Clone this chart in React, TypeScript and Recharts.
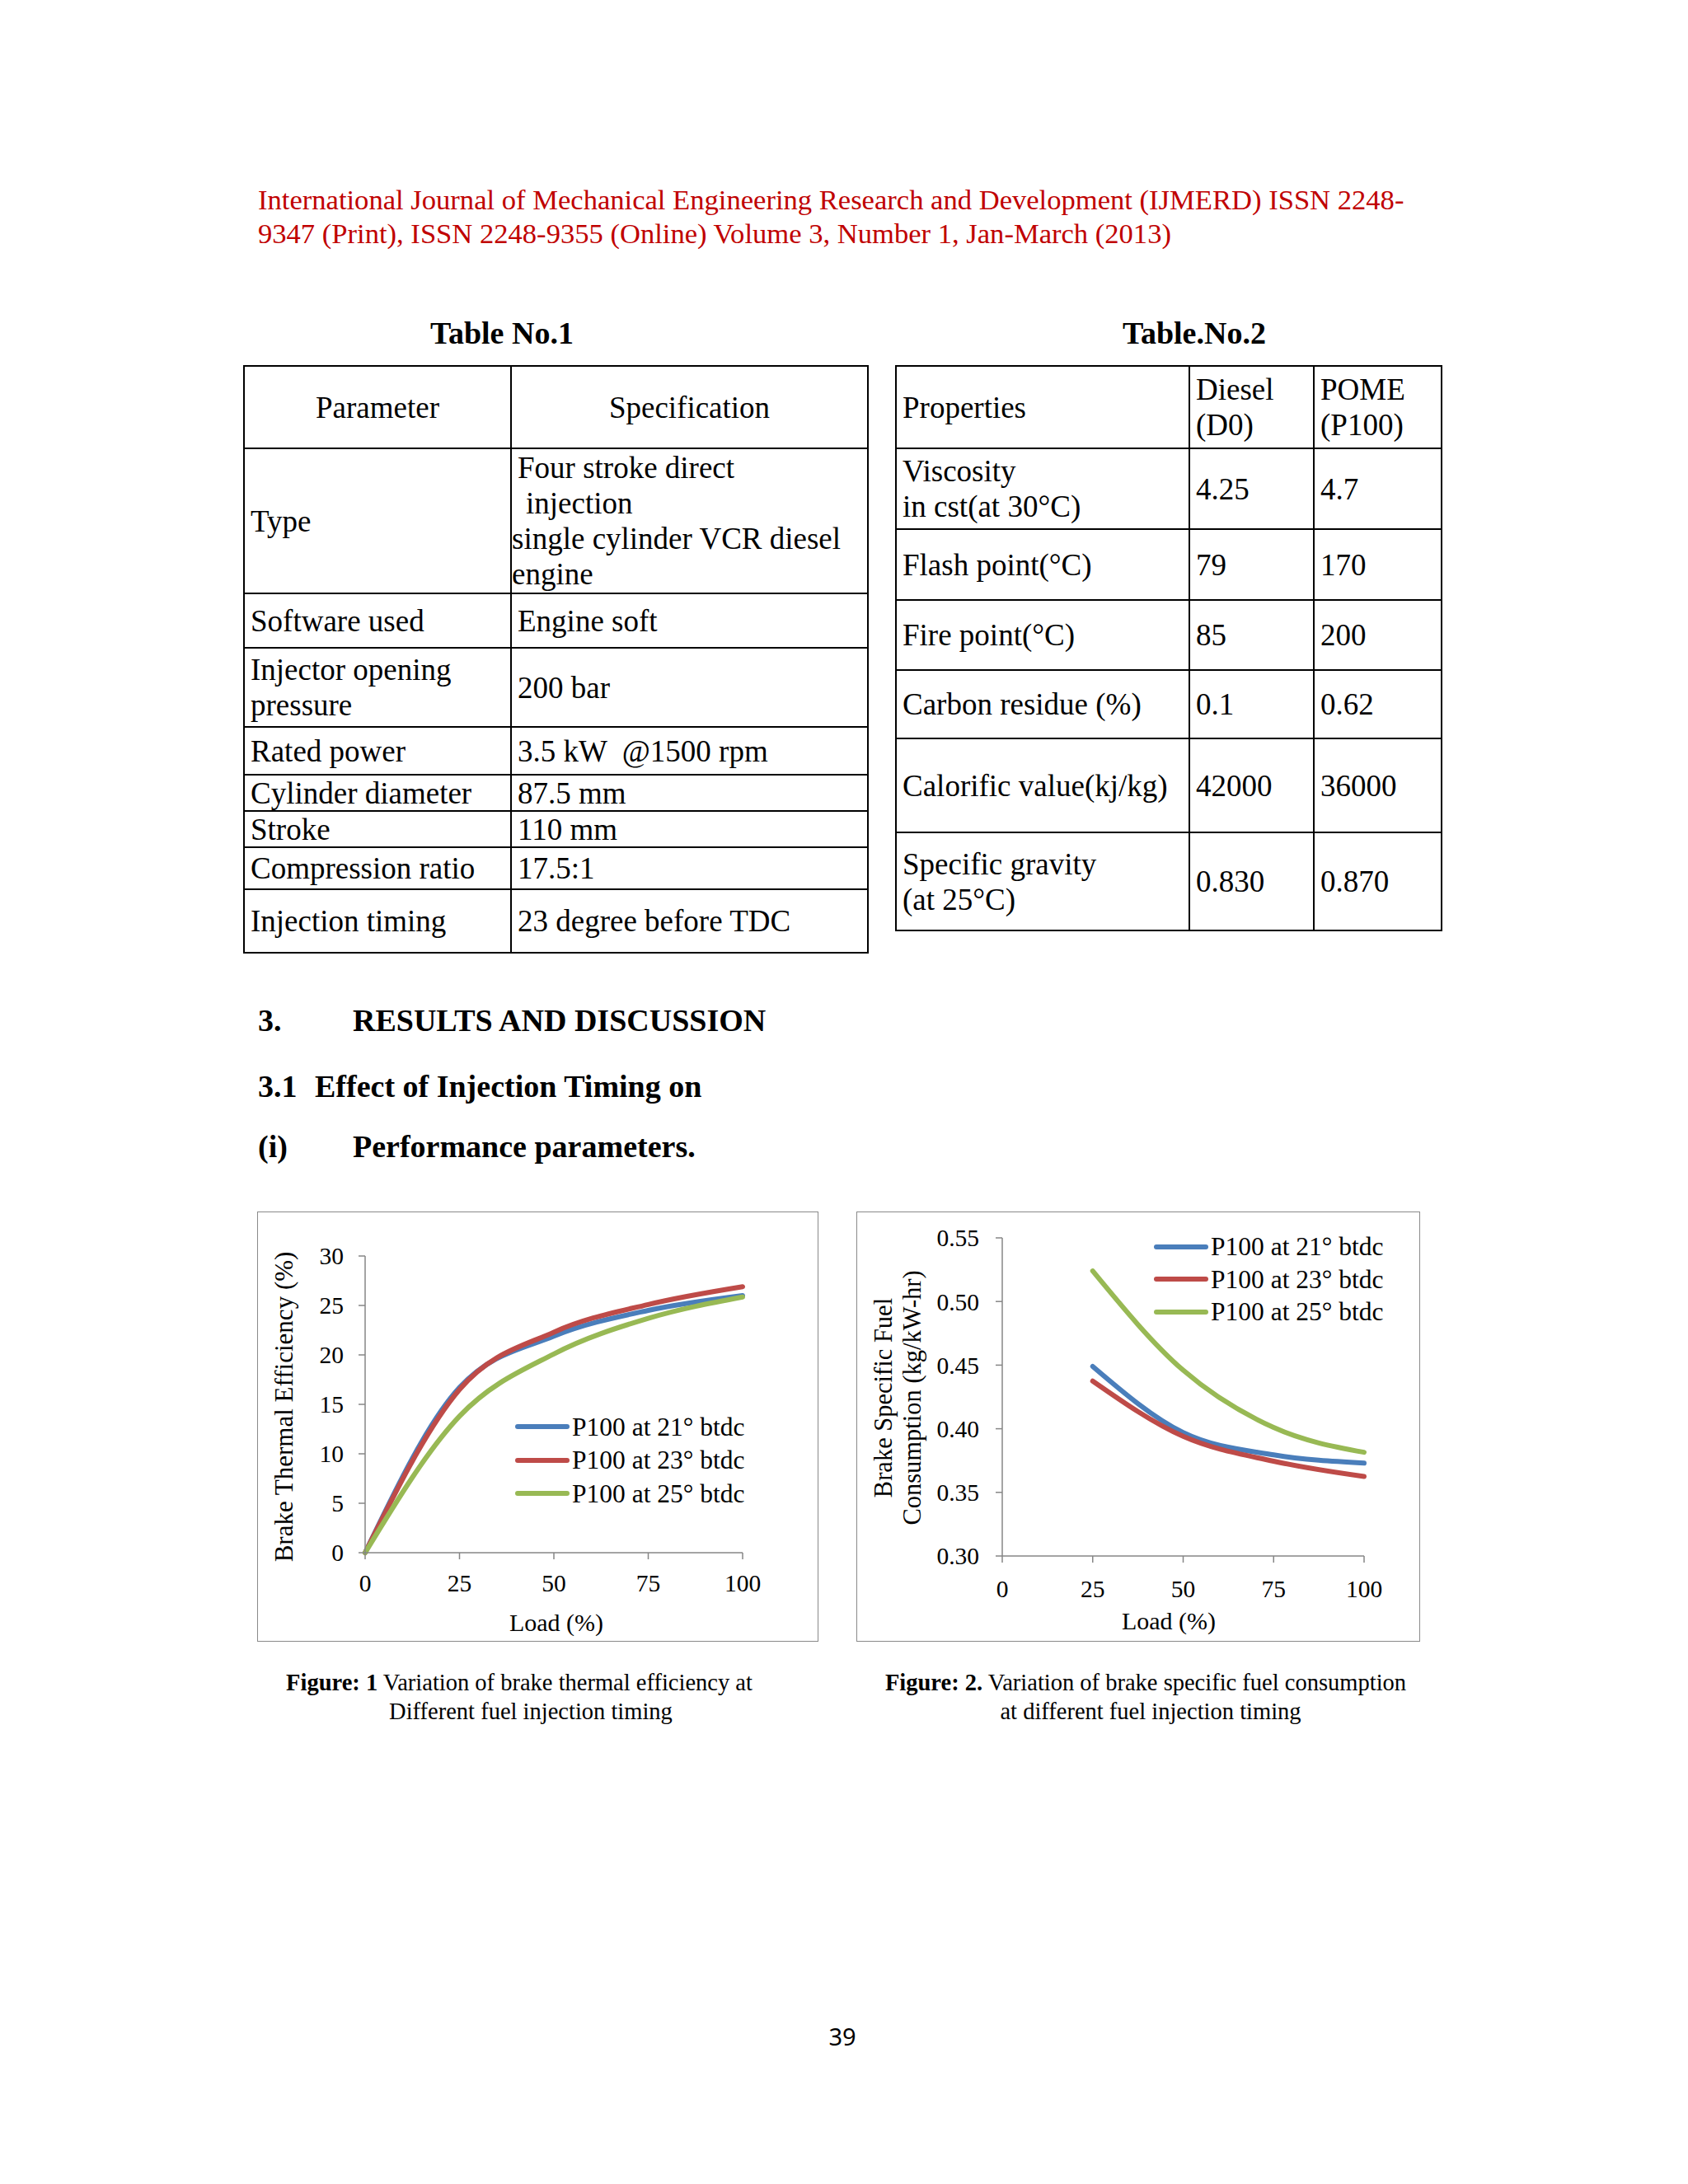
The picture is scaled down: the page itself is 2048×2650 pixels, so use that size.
import React from "react";
import { LineChart, Line, XAxis, YAxis, Legend } from "recharts";

const SERIF = '"Liberation Serif", "Times New Roman", serif';

// chart data
const loads1 = [0, 25, 50, 75, 100];
const bte21 = [0, 16.7, 21.9, 24.5, 26.0];
const bte23 = [0, 16.5, 22.3, 25.1, 26.9];
const bte25 = [0, 13.8, 20.1, 23.7, 25.85];
const bteTicks = [0, 5, 10, 15, 20, 25, 30];

const loads2 = [25, 50, 75, 100];
const bsfc21 = [0.449, 0.397, 0.3795, 0.373];
const bsfc23 = [0.4375, 0.394, 0.3745, 0.3625];
const bsfc25 = [0.524, 0.446, 0.401, 0.3815];
const bsfcTicks = [0.3, 0.35, 0.4, 0.45, 0.5, 0.55];

const loadTicks = [0, 25, 50, 75, 100];
const seriesKeys = ["s21", "s23", "s25"];
const seriesNames = ["P100 at 21° btdc", "P100 at 23° btdc", "P100 at 25° btdc"];
const seriesColors = ["#4A7EBB", "#BE4B48", "#98B954"];

// table contents
const table1 = [
  ["Parameter", "Specification"],
  ["Type", ""],
  ["Software used", "Engine soft"],
  ["Injector opening\npressure", "200 bar"],
  ["Rated power", "3.5 kW  @1500 rpm"],
  ["Cylinder diameter", "87.5 mm"],
  ["Stroke", "110 mm"],
  ["Compression ratio", "17.5:1"],
  ["Injection timing", "23 degree before TDC"],
];
const table1Cols = [296, 620, 1053];
const table1Rows = [444, 544, 720, 786, 882, 940, 984, 1028, 1079, 1156];

const table2 = [
  ["Properties", "Diesel\n(D0)", "POME\n(P100)"],
  ["Viscosity\nin cst(at 30°C)", "4.25", "4.7"],
  ["Flash point(°C)", "79", "170"],
  ["Fire point(°C)", "85", "200"],
  ["Carbon residue (%)", "0.1", "0.62"],
  ["Calorific value(kj/kg)", "42000", "36000"],
  ["Specific gravity\n(at 25°C)", "0.830", "0.870"],
];
const table2Cols = [1087, 1443, 1594, 1749];
const table2Rows = [444, 544, 642, 728, 813, 896, 1010, 1129];

function Txt({ x, y, size, children, bold = false, color = "#000", align = "left", family = SERIF }: any) {
  return (
    <div
      style={{
        position: "absolute",
        left: x,
        top: y - size * 0.62,
        fontSize: size,
        lineHeight: `${size * 1.2}px`,
        fontFamily: family,
        fontWeight: bold ? "bold" : "normal",
        color,
        whiteSpace: "pre",
        transform: align === "center" ? "translateX(-50%)" : undefined,
      }}
    >
      {children}
    </div>
  );
}

function Grid({ cols, rows, cells, render }: any) {
  const out: any[] = [];
  rows.slice(0, -1).forEach((ry: number, r: number) => {
    cols.slice(0, -1).forEach((cx: number, c: number) => {
      out.push(
        <div
          key={`${r}-${c}`}
          style={{
            position: "absolute",
            left: cx - 1,
            top: ry - 1,
            width: cols[c + 1] - cx + 2,
            height: rows[r + 1] - ry + 2,
            border: "2px solid #000",
            boxSizing: "border-box",
            display: "flex",
            alignItems: "center",
            fontFamily: SERIF,
            fontSize: 37,
            lineHeight: "43px",
            color: "#000",
          }}
        >
          {render(cells[r][c], r, c)}
        </div>
      );
    });
  });
  return <>{out}</>;
}

function LegendBox(rowH: number) {
  return () => (
    <div>
      {seriesNames.map((n, i) => (
        <div key={n} style={{ display: "flex", alignItems: "center", height: rowH }}>
          <span style={{ display: "inline-block", width: 66, height: 6, borderRadius: 3, background: seriesColors[i] }} />
          <span style={{ marginLeft: 3, fontSize: 31.5, fontFamily: SERIF, color: "#000", whiteSpace: "nowrap", lineHeight: 1 }}>
            {n}
          </span>
        </div>
      ))}
    </div>
  );
}

function PerfChart({ left, top, width, height, margin, data, yDomain, yTicks, yFmt, yTickMargin, xTickMargin, legendLeft, legendTop, legendRow }: any) {
  const axis = { stroke: "#868686", strokeWidth: 1.5 };
  const tick = { fontSize: 29.5, fill: "#000", fontFamily: SERIF };
  return (
    <>
      <div
        style={{
          position: "absolute",
          left: left - 1,
          top: top - 1,
          width: width + 2,
          height: height + 2,
          border: "1.5px solid #8a8a8a",
          boxSizing: "border-box",
        }}
      />
      <div style={{ position: "absolute", left, top }}>
        <LineChart width={width} height={height} data={data} margin={margin}>
          <XAxis
            type="number"
            dataKey="load"
            domain={[0, 100]}
            ticks={loadTicks}
            interval={0}
            height={60}
            tickSize={8}
            tickMargin={xTickMargin}
            axisLine={axis}
            tickLine={axis}
            tick={tick}
          />
          <YAxis
            type="number"
            domain={yDomain}
            ticks={yTicks}
            interval={0}
            width={80}
            tickSize={8}
            tickMargin={yTickMargin}
            axisLine={axis}
            tickLine={axis}
            tick={tick}
            tickFormatter={yFmt}
          />
          <Legend
            layout="vertical"
            align="center"
            verticalAlign="middle"
            content={LegendBox(legendRow)}
            wrapperStyle={{ left: legendLeft, top: legendTop, width: 340 }}
          />
          {seriesKeys.map((k, i) => (
            <Line
              key={k}
              type="monotone"
              dataKey={k}
              name={seriesNames[i]}
              stroke={seriesColors[i]}
              strokeWidth={6}
              strokeLinecap="round"
              dot={false}
              isAnimationActive={false}
            />
          ))}
        </LineChart>
      </div>
    </>
  );
}

export default function App() {
  const data1 = loads1.map((l, i) => ({ load: l, s21: bte21[i], s23: bte23[i], s25: bte25[i] }));
  const data2 = loads2.map((l, i) => ({ load: l, s21: bsfc21[i], s23: bsfc23[i], s25: bsfc25[i] }));

  return (
    <div style={{ position: "absolute", left: 0, top: 0, width: 2048, height: 2650, background: "#fff", overflow: "hidden" }}>
      <Txt x={313} y={243} size={34.6} color="#C00000">
        International Journal of Mechanical Engineering Research and Development (IJMERD) ISSN 2248-
      </Txt>
      <Txt x={313} y={284} size={34.6} color="#C00000">
        9347 (Print), ISSN 2248-9355 (Online) Volume 3, Number 1, Jan-March (2013)
      </Txt>

      <Txt x={609} y={406} size={38} bold align="center">Table No.1</Txt>
      <Txt x={1449} y={406} size={38} bold align="center">Table.No.2</Txt>

      <Grid
        cols={table1Cols}
        rows={table1Rows}
        cells={table1}
        render={(t: string, r: number, c: number) => {
          if (r === 0) return <div style={{ width: "100%", textAlign: "center" }}>{t}</div>;
          if (r === 1 && c === 1)
            return (
              <div style={{ whiteSpace: "pre" }}>
                <div style={{ paddingLeft: 7 }}>Four stroke direct</div>
                <div style={{ paddingLeft: 17 }}>injection</div>
                <div style={{ paddingLeft: 0 }}>single cylinder VCR diesel</div>
                <div style={{ paddingLeft: 0 }}>engine</div>
              </div>
            );
          return <div style={{ paddingLeft: 7, whiteSpace: "pre" }}>{t}</div>;
        }}
      />
      <Grid
        cols={table2Cols}
        rows={table2Rows}
        cells={table2}
        render={(t: string) => <div style={{ paddingLeft: 7, whiteSpace: "pre" }}>{t}</div>}
      />

      <Txt x={313} y={1240} size={38} bold>3.</Txt>
      <Txt x={428} y={1240} size={38} bold>RESULTS AND DISCUSSION</Txt>
      <Txt x={313} y={1320} size={38} bold>3.1</Txt>
      <Txt x={382} y={1320} size={38} bold>Effect of Injection Timing on</Txt>
      <Txt x={313} y={1393} size={38} bold>(i)</Txt>
      <Txt x={428} y={1393} size={38} bold>Performance parameters.</Txt>

      <PerfChart
        left={313}
        top={1471}
        width={679}
        height={520}
        margin={{ top: 53, right: 91, left: 50, bottom: 47 }}
        data={data1}
        yDomain={[0, 30]}
        yTicks={bteTicks}
        yFmt={(v: number) => String(v)}
        yTickMargin={18}
        xTickMargin={18}
        legendLeft={312}
        legendTop={240}
        legendRow={40.5}
      />
      <div
        style={{
          position: "absolute",
          left: 345,
          top: 1707,
          transform: "translate(-50%, -50%) rotate(-90deg)",
          fontFamily: SERIF,
          fontSize: 31,
          lineHeight: "36px",
          whiteSpace: "nowrap",
        }}
      >
        Brake Thermal Efficiency (%)
      </div>
      <Txt x={675} y={1970} size={30} align="center">Load (%)</Txt>

      <PerfChart
        left={1040}
        top={1471}
        width={682}
        height={520}
        margin={{ top: 31, right: 67, left: 96, bottom: 43 }}
        data={data2}
        yDomain={[0.3, 0.55]}
        yTicks={bsfcTicks}
        yFmt={(v: number) => v.toFixed(2)}
        yTickMargin={20}
        xTickMargin={21}
        legendLeft={360}
        legendTop={22}
        legendRow={39.5}
      />
      <div
        style={{
          position: "absolute",
          left: 1090,
          top: 1696,
          transform: "translate(-50%, -50%) rotate(-90deg)",
          fontFamily: SERIF,
          fontSize: 30.5,
          lineHeight: "35px",
          whiteSpace: "nowrap",
          textAlign: "center",
        }}
      >
        <div>Brake Specific Fuel</div>
        <div>Consumption (kg/kW-hr)</div>
      </div>
      <Txt x={1418} y={1968} size={30} align="center">Load (%)</Txt>

      <Txt x={630} y={2043} size={28.5} align="center">
        <b>Figure: 1</b> Variation of brake thermal efficiency at
      </Txt>
      <Txt x={644} y={2078} size={28.5} align="center">Different fuel injection timing</Txt>
      <Txt x={1390} y={2043} size={28.5} align="center">
        <b>Figure: 2.</b> Variation of brake specific fuel consumption
      </Txt>
      <Txt x={1396} y={2078} size={28.5} align="center">at different fuel injection timing</Txt>

      <Txt x={1022} y={2472} size={29} align="center" family='"Noto Sans", sans-serif'>39</Txt>
    </div>
  );
}
